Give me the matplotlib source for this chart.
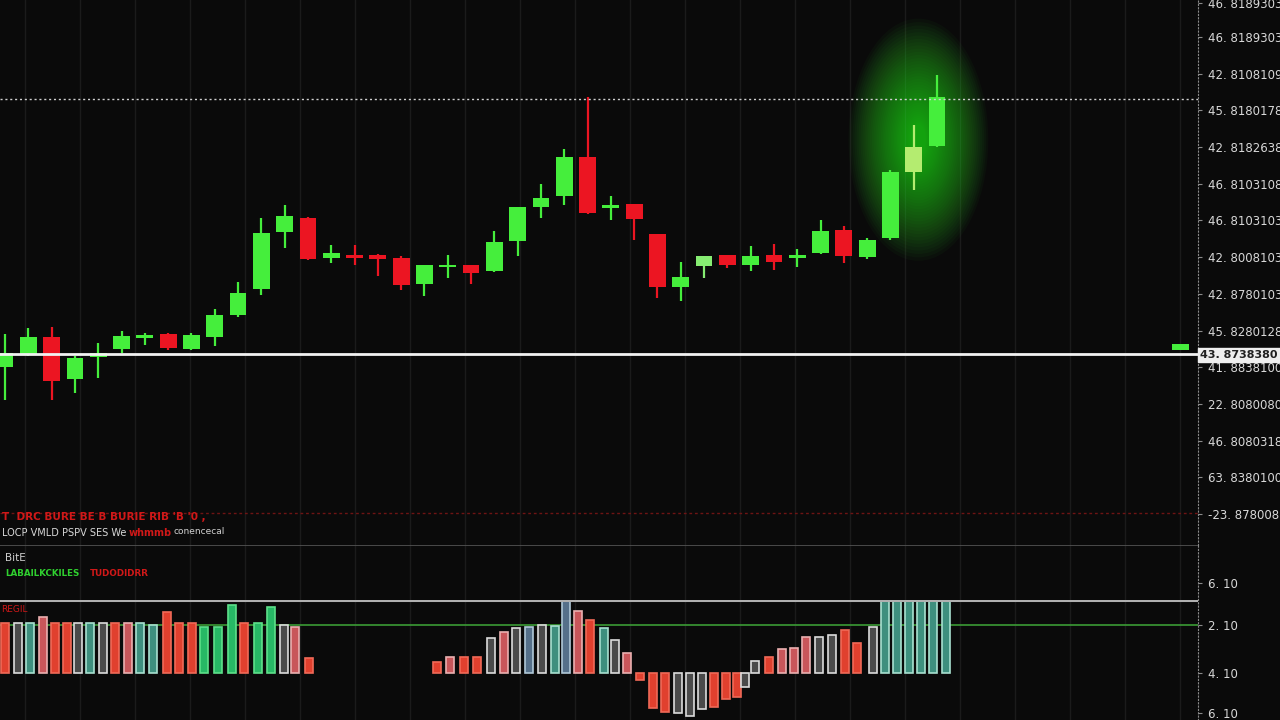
import numpy as np
import matplotlib
matplotlib.use("Agg")
import matplotlib.pyplot as plt
from matplotlib.patches import Ellipse

# candles: open, high, low, close
opens = [42.51, 42.68, 42.91, 42.34, 42.64, 42.75, 42.90, 42.95, 42.75, 42.91,
         43.21, 43.56, 44.34, 44.54, 43.99, 44.01, 44.03, 43.99, 43.64, 43.86,
         43.90, 43.81, 44.22, 44.69, 44.83, 45.37, 44.67, 44.73, 44.31, 43.59,
         43.88, 44.03, 43.89, 44.03, 43.99, 44.05, 44.37, 44.00, 44.26, 45.16,
         45.51]
highs = [42.95, 43.03, 43.05, 42.66, 42.83, 43.00, 42.96, 42.96, 42.96, 43.29,
         43.66, 44.54, 44.71, 44.55, 44.16, 44.16, 44.04, 44.01, 43.90, 44.03,
         43.90, 44.35, 44.69, 45.00, 45.48, 46.18, 44.83, 44.73, 44.31, 43.93,
         44.01, 44.03, 44.15, 44.18, 44.11, 44.50, 44.43, 44.26, 45.19, 45.80,
         46.48]
lows = [42.05, 42.66, 42.05, 42.15, 42.36, 42.70, 42.80, 42.74, 42.73, 42.79,
        43.19, 43.49, 44.13, 43.96, 43.92, 43.89, 43.75, 43.55, 43.47, 43.71,
        43.64, 43.80, 44.01, 44.53, 44.71, 44.59, 44.50, 44.23, 43.45, 43.40,
        43.71, 43.85, 43.81, 43.82, 43.86, 44.04, 43.92, 43.97, 44.23, 44.91,
        45.50]
closes = [42.69, 42.91, 42.31, 42.62, 42.69, 42.92, 42.92, 42.76, 42.94, 43.21,
          43.51, 44.33, 44.56, 43.97, 44.05, 43.99, 43.97, 43.62, 43.89, 43.89,
          43.79, 44.20, 44.68, 44.80, 45.37, 44.60, 44.69, 44.52, 43.59, 43.73,
          44.01, 43.89, 44.01, 43.93, 44.01, 44.35, 44.01, 44.23, 45.16, 45.50,
          46.18]

high_line = 46.15
last_price = 42.68
red_level = 40.51
last_tick = (42.73, 42.82)

price_ticks = [47.46, 47.0, 46.5, 46.0, 45.5, 45.0, 44.5, 44.0, 43.5, 43.0,
               42.5, 42.0, 41.5, 41.0, 40.5]
price_labels = ["46. 8189303", "46. 8189303", "42. 8108109", "45. 8180178",
                "42. 8182638", "46. 8103108", "46. 8103103", "42. 8008103",
                "42. 8780103", "45. 8280128", "41. 8838100", "22. 8080080",
                "46. 8080318", "63. 8380100", "-23. 878008"]
last_label = "43. 8738380"

# oscillator histogram
osc_x = [5, 18, 30, 43, 55, 67, 78, 90, 103, 115, 128, 140, 153, 167, 179,
         192, 204, 218, 232, 244, 258, 271, 284, 295, 309,
         437, 450, 464, 477, 491, 504, 516, 529, 542, 555, 566, 578, 590, 604,
         615, 627, 640, 653, 665, 678, 690, 702, 714, 726, 737, 745, 755, 769,
         782, 794, 806, 819, 832, 845, 857, 873, 885, 897, 909, 921, 933, 946]
osc_val = [50, 50, 50, 56, 50, 50, 50, 50, 50, 50, 50, 50, 48, 61, 50,
           50, 46, 46, 68, 50, 50, 66, 48, 46, 15,
           11, 16, 16, 16, 35, 41, 45, 46, 48, 47, 75, 62, 53, 45,
           33, 20, -7, -35, -39, -40, -43, -36, -34, -26, -24, -14, 12, 16,
           24, 25, 36, 36, 38, 43, 30, 46, 75, 75, 75, 75, 75, 75]
osc_kind = ["r", "w", "t", "p", "r", "r", "w", "t", "w", "r", "p", "t", "t", "r", "r",
            "r", "g", "g", "g", "r", "g", "g", "w", "p", "r",
            "r", "p", "r", "r", "w", "p", "w", "b", "w", "t", "b", "p", "r", "t",
            "w", "p", "r", "r", "r", "w", "w", "w", "r", "r", "r", "w", "w", "r",
            "p", "p", "p", "w", "w", "r", "r", "w", "t", "t", "t", "t", "t", "t"]
osc_signal = 48
osc_ticks = [48, 0, -40]
osc_labels = ["2. 10", "4. 10", "6. 10"]

BG = "#0a0a0a"
GREEN = "#45ee3c"
RED = "#ec1522"
TXT = "#d8d8d8"
GRID = "#1b1b1b"

W, H = 1280, 720


def box(x0, y0, x1, y1):
    return [x0 / W, 1 - y1 / H, (x1 - x0) / W, (y1 - y0) / H]


fig = plt.figure(figsize=(12.8, 7.2), dpi=100, facecolor=BG)
ax = fig.add_axes(box(0, 0, 1198, 545))
axm = fig.add_axes(box(0, 545, 1198, 600))
axh = fig.add_axes(box(0, 600, 1198, 720))

for a in (ax, axm, axh):
    a.set_facecolor(BG)
    a.set_axisbelow(True)
    for s in ("top", "left", "bottom"):
        a.spines[s].set_visible(False)
    a.spines["right"].set_color("#8a8a8a")
    a.spines["right"].set_linestyle((0, (1, 2)))
    a.yaxis.tick_right()
    a.tick_params(axis="y", colors="#8a8a8a", labelcolor=TXT, labelsize=8.5,
                  length=3, pad=4)
    a.tick_params(axis="x", length=0, labelbottom=False)

# price panel
n = len(opens)
idx = np.arange(n)
ax.set_xlim(-0.215, 51.2)
ax.set_ylim(40.078, 47.504)
ax.set_xticks(np.arange(0.86, 51.2, 2.36))
ax.grid(axis="x", color=GRID, lw=1)
ax.set_yticks(price_ticks)
ax.set_yticklabels(price_labels)

# soft glow around the last candles
for k in range(40):
    f = 1 - k / 40
    ax.add_patch(Ellipse((39.2, 45.6), 0.6 + 5.4 * f ** 1.3, 0.4 + 2.9 * f ** 1.3,
                         color="#2fe02a", alpha=0.035, lw=0, zorder=1))

cols = []
for i in range(n):
    c = GREEN if closes[i] >= opens[i] else RED
    cols.append(c)
cols[39] = "#b4ec70"
cols[30] = "#86ec72"

bottoms = np.minimum(opens, closes)
heights = np.maximum(np.abs(np.array(closes) - np.array(opens)), 0.04)
ax.vlines(idx, lows, highs, colors=cols, lw=1.6, zorder=2)
ax.bar(idx, heights, bottom=bottoms, width=0.72, color=cols, zorder=3)

ax.axhline(high_line, color="#cfcfcf", lw=1, ls=(0, (1.5, 2)), zorder=4)
ax.axhline(last_price, color="#f2f2f2", lw=2, zorder=4)
ax.axhline(red_level, color="#6e1414", lw=1, ls=(0, (2, 2)), zorder=1)
ax.bar(50.45, last_tick[1] - last_tick[0], bottom=last_tick[0], width=0.7,
       color=GREEN, zorder=5)

fig.text(1200 / W, 1 - 355 / H, last_label, color="#202020", fontsize=8,
         va="center", ha="left", fontweight="bold",
         bbox=dict(boxstyle="square,pad=0.2", fc="#eeeeee", ec="#eeeeee"))

# middle strip
axm.set_xlim(0, 1198)
axm.set_ylim(0, 1)
axm.set_xticks(np.arange(25, 1198, 55))
axm.grid(axis="x", color=GRID, lw=1)
axm.set_yticks([0.31])
axm.set_yticklabels(["6. 10"])
axm.axhline(1, color="#555555", lw=1.2)

# oscillator panel
axh.set_xlim(0, 1198)
axh.set_ylim(-47, 73)
axh.set_xticks(np.arange(25, 1198, 55))
axh.grid(axis="x", color=GRID, lw=1)
axh.set_yticks(osc_ticks)
axh.set_yticklabels(osc_labels)
axh.axhline(73, color="#b0b0b0", lw=2.2, zorder=6)
axh.axhline(osc_signal, color="#3b9b35", lw=1.2, zorder=1)

kind_fill = {"r": "#e0402e", "w": "#4a4a4a", "t": "#3e8f7e", "p": "#c8565a",
             "b": "#55708a", "g": "#27b865"}
kind_edge = {"r": "#f06a58", "w": "#dcdcdc", "t": "#a8e0d0", "p": "#eab0b0",
             "b": "#b0c8d8", "g": "#5ee08a"}
axh.bar(osc_x, osc_val, width=8,
        color=[kind_fill[k] for k in osc_kind],
        edgecolor=[kind_edge[k] for k in osc_kind], lw=1.2, zorder=3)

# indicator captions
fig.text(2 / W, 1 - 517 / H, "T  DRC BURE BE B BURIE RIB 'B '0 ,", color="#d01818",
         fontsize=7.5, fontweight="bold", va="center")
fig.text(2 / W, 1 - 533 / H, "LOCP VMLD PSPV SES We", color="#d8d8d8",
         fontsize=7, va="center")
fig.text(129 / W, 1 - 533 / H, "whmmb", color="#d01818", fontsize=7,
         fontweight="bold", va="center")
fig.text(174 / W, 1 - 531 / H, "conencecal", color="#d0d0d0", fontsize=6.5,
         va="center")
fig.text(5 / W, 1 - 558 / H, "BitE", color="#cfcfcf", fontsize=7.5, va="center")
fig.text(5 / W, 1 - 574 / H, "LABAILKCKILES", color="#2fd02f", fontsize=6.3,
         fontweight="bold", va="center")
fig.text(90 / W, 1 - 574 / H, "TUDODIDRR", color="#d01818", fontsize=6.3,
         fontweight="bold", va="center")
fig.text(1 / W, 1 - 610 / H, "REGIL", color="#d01818", fontsize=6.5,
         va="center", zorder=10)

fig.savefig("out.png", dpi=100, facecolor=BG)
